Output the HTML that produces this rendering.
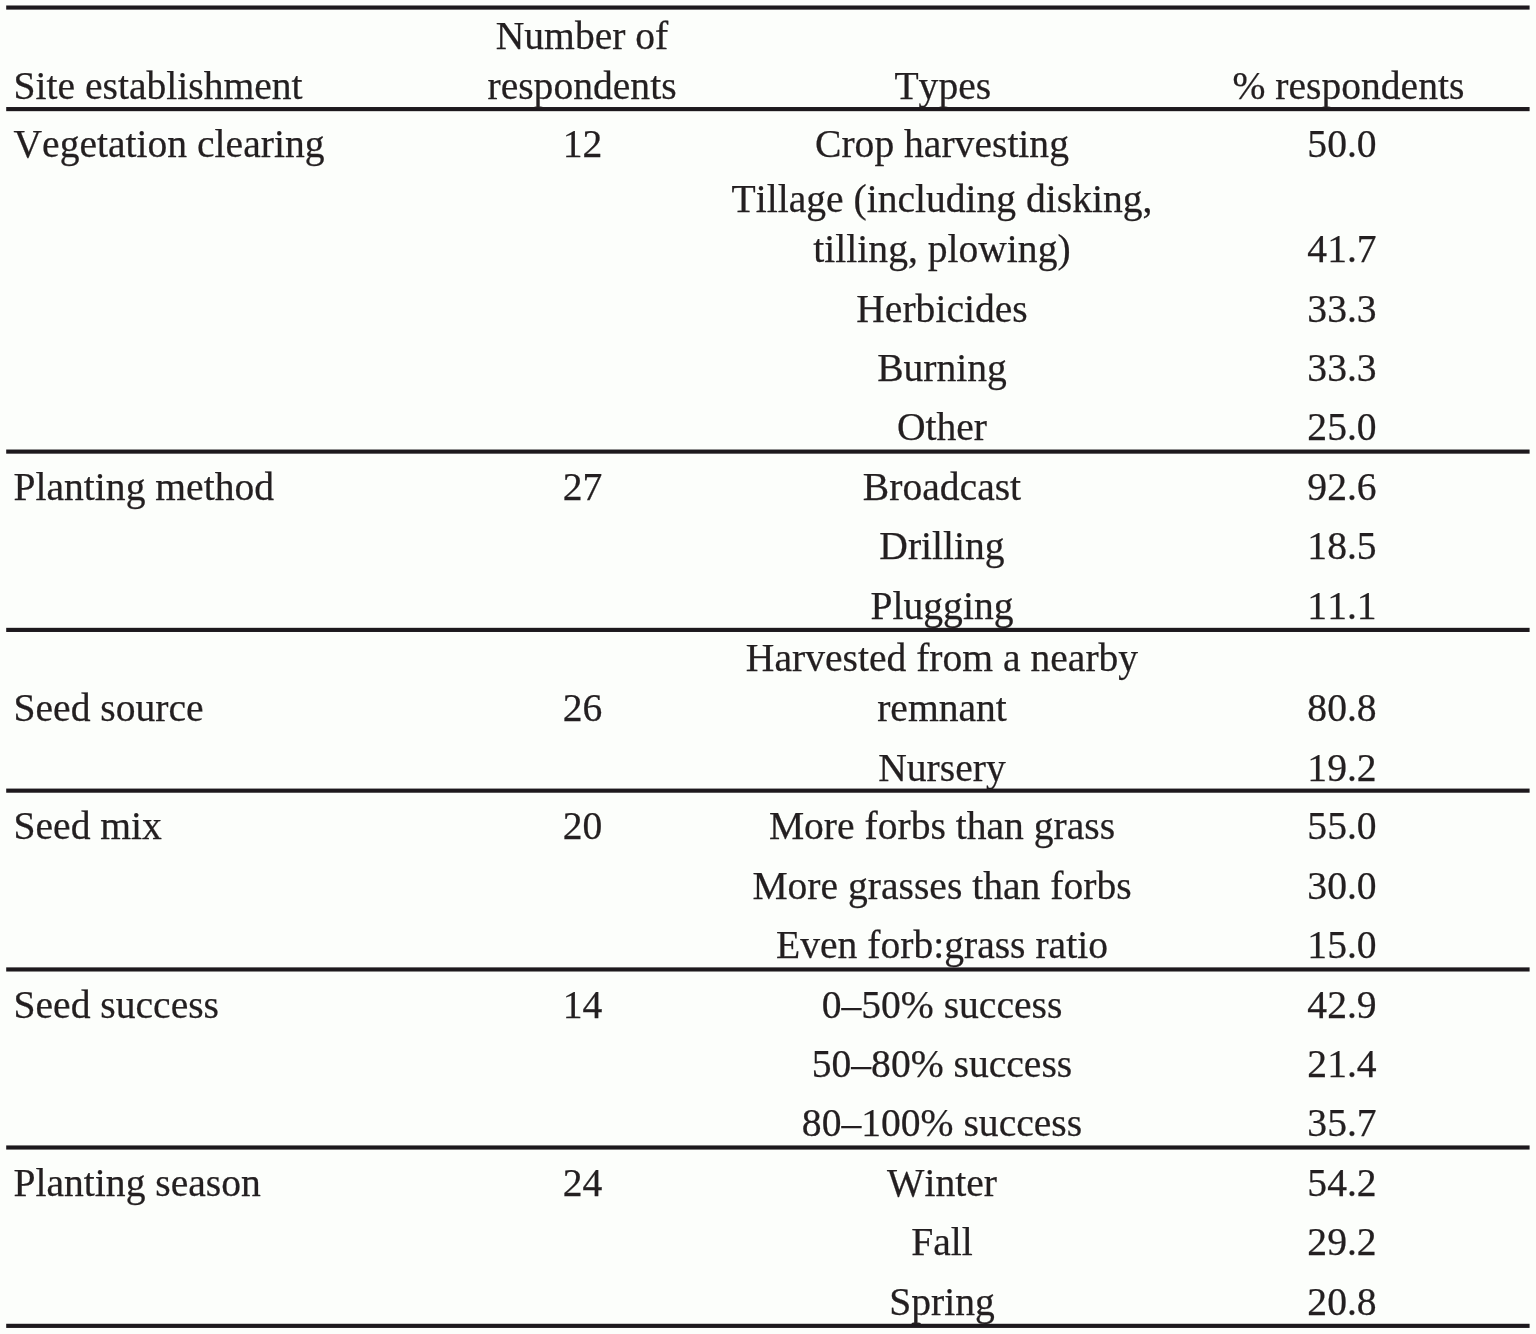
<!DOCTYPE html>
<html lang="en">
<head>
<meta charset="utf-8">
<title>Site establishment practices of survey respondents</title>
<style>
html,body{margin:0;padding:0;background:#fcfefb;}
body{width:1536px;height:1334px;position:relative;overflow:hidden;font-family:"Liberation Serif","Times New Roman",Times,serif;font-size:39.6px;line-height:40px;color:#231f20;font-kerning:none;font-variant-ligatures:none;-webkit-text-stroke:0.25px #231f20;}
.rules{position:absolute;left:0;top:0;display:block;}
table,thead,tbody{display:block;margin:0;padding:0;border:0;}
tr{display:block;position:absolute;left:0;width:1536px;height:40px;}
th,td{display:block;position:absolute;top:0;height:40px;margin:0;padding:0;border:0;font-weight:normal;white-space:nowrap;text-align:center;width:600px;}
.a{left:13.5px;text-align:left;width:440px;}
.b{left:282.60px;}
.c{left:642.00px;}
.d{left:1042.00px;}
th.b{left:282.00px;}
th.c{left:642.80px;}
th.d{left:1048.40px;}
.two{line-height:50px;height:100px;top:-55px;}
</style>
</head>
<body>
<svg class="rules" width="1536" height="1334" viewBox="0 0 1536 1334" aria-hidden="true">
<rect x="6.2" y="5.475" width="1523.40" height="4.15" fill="#1d191d"/>
<rect x="6.2" y="107.025" width="1523.40" height="4.15" fill="#1d191d"/>
<rect x="6.2" y="449.525" width="1523.40" height="4.15" fill="#1d191d"/>
<rect x="6.2" y="627.825" width="1523.40" height="4.15" fill="#1d191d"/>
<rect x="6.2" y="788.575" width="1523.40" height="4.15" fill="#1d191d"/>
<rect x="6.2" y="967.375" width="1523.40" height="4.15" fill="#1d191d"/>
<rect x="6.2" y="1145.425" width="1523.40" height="4.15" fill="#1d191d"/>
<rect x="6.2" y="1323.775" width="1523.40" height="4.15" fill="#1d191d"/>
</svg>
<table>
<thead>
<tr style="top:66px"><th class="a">Site establishment</th><th class="b two">Number of<br>respondents</th><th class="c">Types</th><th class="d">% respondents</th></tr>
</thead>
<tbody>
<tr style="top:124px"><td class="a">Vegetation clearing</td><td class="b">12</td><td class="c">Crop harvesting</td><td class="d">50.0</td></tr>
<tr style="top:229px"><td class="a"></td><td class="b"></td><td class="c two">Tillage (including disking,<br>tilling, plowing)</td><td class="d">41.7</td></tr>
<tr style="top:289px"><td class="a"></td><td class="b"></td><td class="c">Herbicides</td><td class="d">33.3</td></tr>
<tr style="top:348px"><td class="a"></td><td class="b"></td><td class="c">Burning</td><td class="d">33.3</td></tr>
<tr style="top:407px"><td class="a"></td><td class="b"></td><td class="c">Other</td><td class="d">25.0</td></tr>
<tr style="top:467px"><td class="a">Planting method</td><td class="b">27</td><td class="c">Broadcast</td><td class="d">92.6</td></tr>
<tr style="top:526px"><td class="a"></td><td class="b"></td><td class="c">Drilling</td><td class="d">18.5</td></tr>
<tr style="top:586px"><td class="a"></td><td class="b"></td><td class="c">Plugging</td><td class="d">11.1</td></tr>
<tr style="top:688px"><td class="a">Seed source</td><td class="b">26</td><td class="c two">Harvested from a nearby<br>remnant</td><td class="d">80.8</td></tr>
<tr style="top:748px"><td class="a"></td><td class="b"></td><td class="c">Nursery</td><td class="d">19.2</td></tr>
<tr style="top:806px"><td class="a">Seed mix</td><td class="b">20</td><td class="c">More forbs than grass</td><td class="d">55.0</td></tr>
<tr style="top:866px"><td class="a"></td><td class="b"></td><td class="c">More grasses than forbs</td><td class="d">30.0</td></tr>
<tr style="top:925px"><td class="a"></td><td class="b"></td><td class="c">Even forb:grass ratio</td><td class="d">15.0</td></tr>
<tr style="top:985px"><td class="a">Seed success</td><td class="b">14</td><td class="c">0–50% success</td><td class="d">42.9</td></tr>
<tr style="top:1044px"><td class="a"></td><td class="b"></td><td class="c">50–80% success</td><td class="d">21.4</td></tr>
<tr style="top:1103px"><td class="a"></td><td class="b"></td><td class="c">80–100% success</td><td class="d">35.7</td></tr>
<tr style="top:1163px"><td class="a">Planting season</td><td class="b">24</td><td class="c">Winter</td><td class="d">54.2</td></tr>
<tr style="top:1222px"><td class="a"></td><td class="b"></td><td class="c">Fall</td><td class="d">29.2</td></tr>
<tr style="top:1282px"><td class="a"></td><td class="b"></td><td class="c">Spring</td><td class="d">20.8</td></tr>
</tbody>
</table>
</body>
</html>
